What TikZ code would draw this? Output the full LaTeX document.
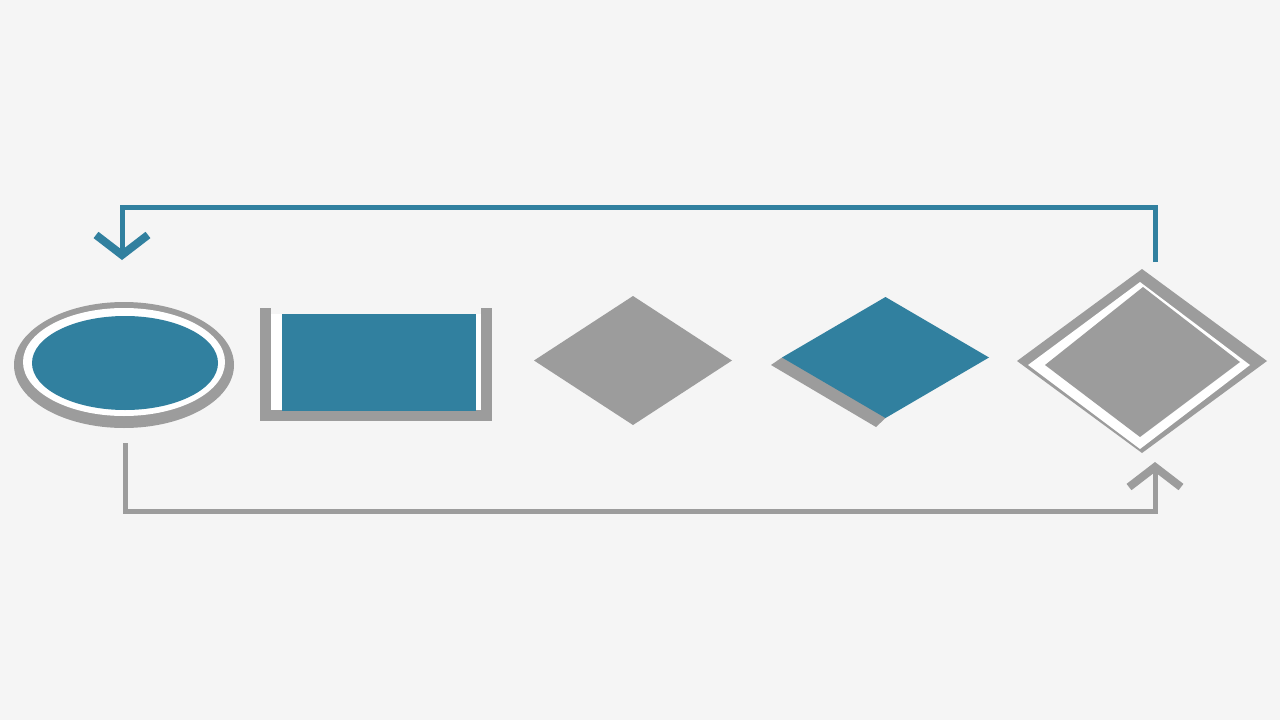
\documentclass[tikz,border=0pt]{standalone}
\usetikzlibrary{shapes.geometric,arrows.meta}
\definecolor{fonbg}{HTML}{F5F5F5}
\definecolor{sinij}{HTML}{31809F}
\definecolor{seryj}{HTML}{9C9C9C}
\begin{document}
\begin{tikzpicture}[x=1pt,y=-1pt,
    figura/.style={draw=none,inner sep=0pt,outer sep=0pt},
    strelka/.style={line width=5pt,-{Straight Barb[length=20pt,width=52pt,line width=8pt,sharp]}}]
    \fill[fonbg] (0,0) rectangle (1280,720); % фон
    % овал
    \node[figura,ellipse,fill=seryj,minimum width=220pt,minimum height=126pt] (oval) at (124,365) {};
    \node[figura,ellipse,fill=white,minimum width=202pt,minimum height=108pt] (ovalw) at (124,362) {};
    \node[figura,ellipse,fill=sinij,minimum width=186pt,minimum height=94pt] (ovalb) at (125,363) {};
    % прямоугольник
    \draw[seryj,line width=11pt] (265.5,308) -- (265.5,415.5) -- (486,415.5) -- (486,308);
    \fill[white] (271,314) rectangle (481,410);
    \node[figura,rectangle,fill=sinij,minimum width=194pt,minimum height=97pt] (pryam) at (379,362.5) {};
    % ромбы
    \node[figura,diamond,fill=seryj,minimum width=198pt,minimum height=129pt] (romb) at (633,360.5) {};
    \fill[seryj] (771,365) -- (782,357.5) -- (885.5,357.5) -- (885.5,418) -- (876,427) -- cycle; % тень
    \node[figura,diamond,fill=sinij,minimum width=207pt,minimum height=121pt] (romb1) at (885.5,357.5) {};
    \node[figura,diamond,fill=seryj,minimum width=250pt,minimum height=184pt] (romb2) at (1142,361) {};
    \fill[white] (1140,282) -- (1250,365) -- (1140,449) -- (1028,365) -- cycle;
    \fill[seryj] (1143,287) -- (1240,362) -- (1140,437) -- (1045,365) -- cycle;
    % стрелки
    \draw[strelka,sinij] ([xshift=13pt,yshift=7pt]romb2.north) -- ++(0,-55) -| ([xshift=-2pt,yshift=42pt]oval.north);
    \draw[strelka,seryj] ([xshift=1pt,yshift=-15pt]oval.south) -- ++(0,68) -| ([xshift=13pt,yshift=-9pt]romb2.south);
\end{tikzpicture}
\end{document}
